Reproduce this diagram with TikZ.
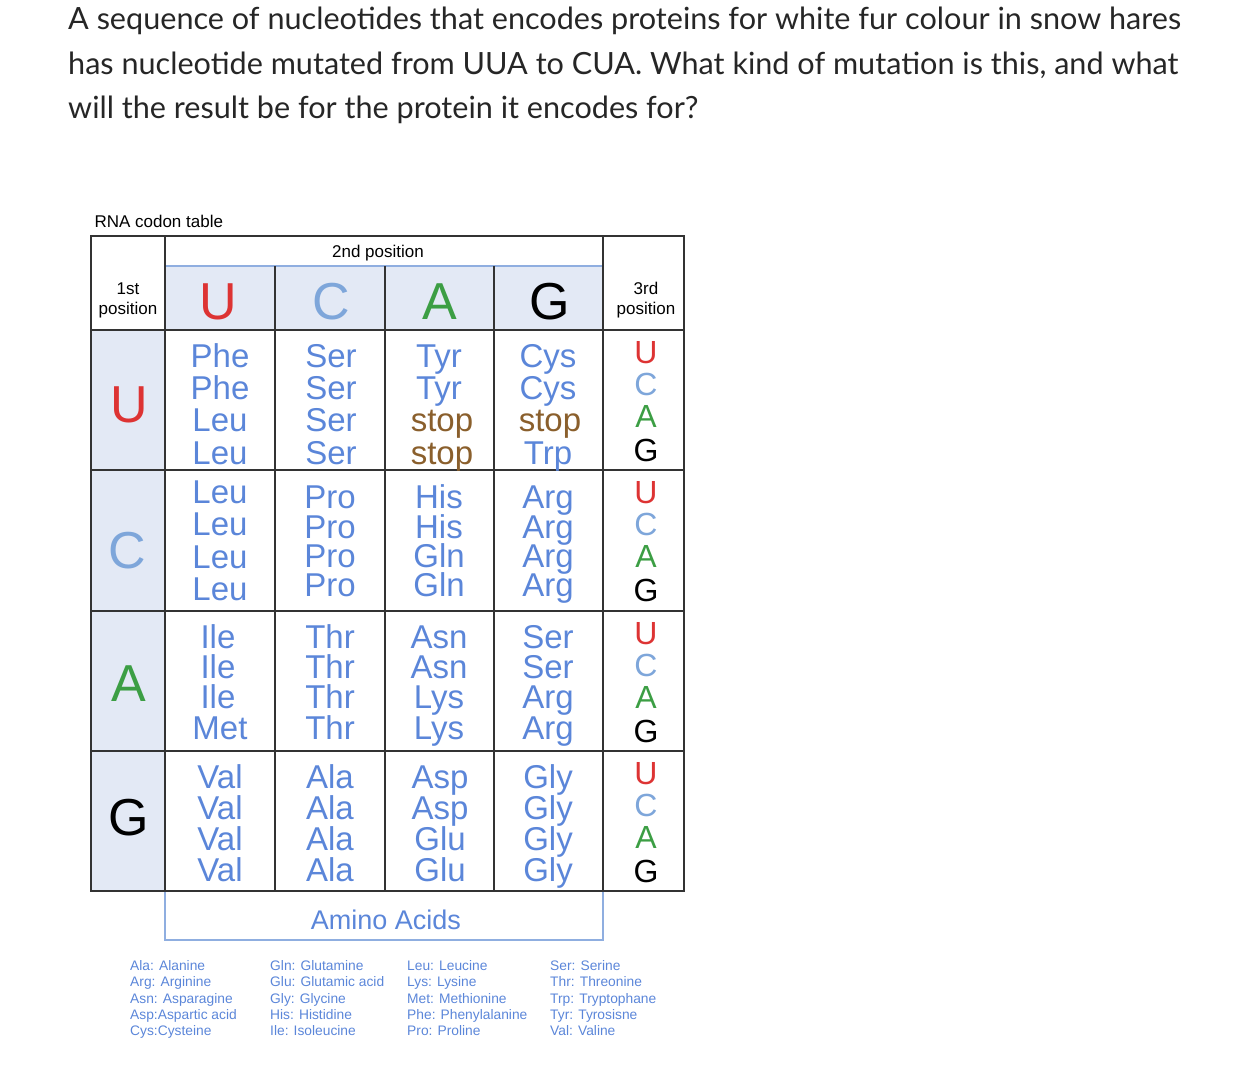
\documentclass[tikz,border=0pt]{standalone}
\usepackage{fontspec}
\setmainfont{Liberation Sans}
\newfontfamily\qfont{Lato}
\definecolor{rU}{HTML}{DD3333}
\definecolor{bC}{HTML}{7EA6DA}
\definecolor{gA}{HTML}{3C9E44}
\definecolor{aa}{HTML}{5B86D9}
\definecolor{stp}{HTML}{8A5F2C}
\definecolor{fillb}{HTML}{E3E9F5}
\definecolor{lineb}{HTML}{8FAEE0}
\begin{document}
\begin{tikzpicture}[x=1pt,y=-1pt,
  grid/.style={line width=1.3pt,draw=black!80},
  big/.style={font=\fontsize{52}{52}\selectfont},
  amin/.style={font=\fontsize{33}{33}\selectfont,text=aa,inner sep=0pt,anchor=base},
  third/.style={font=\fontsize{32}{32}\selectfont,inner sep=0pt,anchor=base},
  leg/.style={font=\fontsize{13.8}{16.4}\selectfont,text=aa,align=left,anchor=north west,inner sep=0pt},
  small/.style={font=\fontsize{17}{20}\selectfont,align=center}]
\useasboundingbox (0,0) rectangle (1254,1066);
\node[anchor=north west,inner sep=0pt,align=left,font=\qfont\fontsize{30.6}{44.5}\selectfont,text=black!85] (q) at (68,7)
 {A sequence of nucleotides that encodes proteins for white fur colour in snow hares\\
 has nucleotide mutated from UUA to CUA. What kind of mutation is this, and what\\
 will the result be for the protein it encodes for?};
\node[anchor=west,font=\fontsize{17}{17}\selectfont] (title) at (91,221) {RNA codon table};
% fills
\fill[fillb] (91,330) rectangle (165,891);
\fill[fillb] (165,266) rectangle (603,330);
\draw[lineb,line width=1.3pt] (165,266) -- (603,266);
\draw[lineb,line width=1.3pt] (165,891) rectangle (603,940);
\draw[grid] (91,236) rectangle (684,891);
\foreach \x in {165,603} \draw[grid] (\x,236) -- (\x,891);
\foreach \x in {275,385,494} \draw[grid] (\x,266) -- (\x,891);
\foreach \y in {330,470,611,751} \draw[grid] (91,\y) -- (684,\y);
\node[small] (p2) at (378,253) {2nd position};
\node[small] (p1) at (128,300) {1st\\position};
\node[small] (p3) at (646,300) {3rd\\position};
\node[big,text=rU] (hU) at (218,302) {U};
\node[big,text=bC] (hC) at (331,302) {C};
\node[big,text=gA] (hA) at (440,302) {A};
\node[big,text=black] (hG) at (550,302) {G};
\node[big,text=rU] (rU) at (129,405) {U};
\node[big,text=bC] (rC) at (127,551) {C};
\node[big,text=gA] (rA) at (129,684) {A};
\node[big,text=black] (rG) at (129,818) {G};
\foreach \b/\y in {0/363,1/503,2/644,3/784}{
  \node[third,text=rU] (t\b u) at (646,\y) {U};
  \node[third,text=bC] (t\b c) at (646,\y+32) {C};
  \node[third,text=gA] (t\b a) at (646,\y+64) {A};
  \node[third,text=black] (t\b g) at (646,\y+98) {G};
}
% amino acids
\foreach \n/\x/\y/\t in {
 a1/220/367/Phe, a2/220/399/Phe, a3/220/431/Leu, a4/220/464/Leu,
 b1/331/367/Ser, b2/331/399/Ser, b3/331/431/Ser, b4/331/464/Ser,
 c1/439/367/Tyr, c2/439/399/Tyr,
 d1/548/367/Cys, d2/548/399/Cys, d4/548/464/Trp,
 e1/220/503/Leu, e2/220/535/Leu, e3/220/568/Leu, e4/220/600/Leu,
 f1/330/508/Pro, f2/330/538/Pro, f3/330/567/Pro, f4/330/596/Pro,
 g1/439/508/His, g2/439/538/His, g3/439/567/Gln, g4/439/596/Gln,
 h1/548/508/Arg, h2/548/538/Arg, h3/548/567/Arg, h4/548/596/Arg,
 i1/218/648/Ile, i2/218/678/Ile, i3/218/708/Ile, i4/220/739/Met,
 j1/330/648/Thr, j2/330/678/Thr, j3/330/708/Thr, j4/330/739/Thr,
 k1/439/648/Asn, k2/439/678/Asn, k3/439/708/Lys, k4/439/739/Lys,
 l1/548/648/Ser, l2/548/678/Ser, l3/548/708/Arg, l4/548/739/Arg,
 m1/220/788/Val, m2/220/819/Val, m3/220/850/Val, m4/220/881/Val,
 n1/330/788/Ala, n2/330/819/Ala, n3/330/850/Ala, n4/330/881/Ala,
 o1/440/788/Asp, o2/440/819/Asp, o3/440/850/Glu, o4/440/881/Glu,
 p1/548/788/Gly, p2/548/819/Gly, p3/548/850/Gly, p4/548/881/Gly}
 \node[amin] (\n) at (\x,\y) {\t};
\node[amin,text=stp] (c3) at (442,431) {stop};
\node[amin,text=stp] (c4) at (442,464) {stop};
\node[amin,text=stp] (d3) at (550,431) {stop};
\node[font=\fontsize{27}{27}\selectfont,text=aa] (aab) at (386,920) {Amino Acids};
\node[leg] (L1) at (130,960) {Ala: Alanine\\Arg: Arginine\\Asn: Asparagine\\Asp:Aspartic acid\\Cys:Cysteine};
\node[leg] (L2) at (270,960) {Gln: Glutamine\\Glu: Glutamic acid\\Gly: Glycine\\His: Histidine\\Ile: Isoleucine};
\node[leg] (L3) at (407,960) {Leu: Leucine\\Lys: Lysine\\Met: Methionine\\Phe: Phenylalanine\\Pro: Proline};
\node[leg] (L4) at (550,960) {Ser: Serine\\Thr: Threonine\\Trp: Tryptophane\\Tyr: Tyrosisne\\Val: Valine};
\end{tikzpicture}
\end{document}
